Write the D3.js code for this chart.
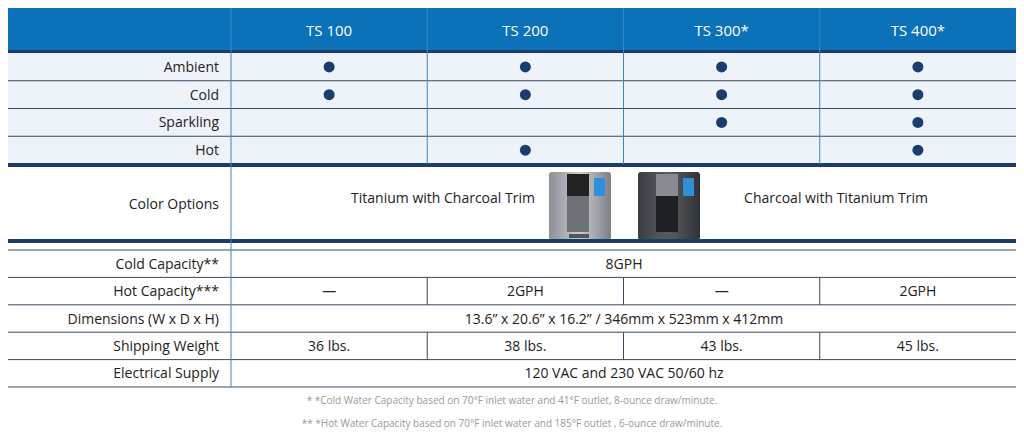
<!DOCTYPE html><html><head><meta charset="utf-8">
<script src="https://cdn.jsdelivr.net/npm/d3@7"></script>
<style>body{margin:0;background:#fff}text{font-family:"Open Sans",sans-serif}</style></head><body>
<svg id="c" width="1024" height="439"></svg>
<script>
const models=["TS 100","TS 200","TS 300*","TS 400*"];
const features=["Ambient","Cold","Sparkling","Hot"];
const featureAvail=[[1,1,1,1],[1,1,1,1],[0,0,1,1],[0,1,0,1]];
const specLabels=["Cold Capacity**","Hot Capacity***","Dimensions (W x D x H)","Shipping Weight","Electrical Supply"];
const specValues=[["8GPH"],["—","2GPH","—","2GPH"],["13.6” x 20.6” x 16.2”  /  346mm x 523mm x 412mm"],["36 lbs.","38 lbs.","43 lbs.","45 lbs."],["120 VAC and 230 VAC 50/60 hz"]];
const colorOptions=["Titanium with Charcoal Trim","Charcoal with Titanium Trim"];
const footnotes=["* *Cold Water Capacity based  on 70°F inlet water and 41°F outlet, 8-ounce draw/minute.","** *Hot Water Capacity based on 70°F inlet water and 185°F outlet , 6-ounce  draw/minute."];

const svg=d3.select("#c");
const x=d3.scaleBand().domain(models).range([231,1016]);
const L=8,R=1016,navy="#1b3d6e",line="#3a4a5e";
// header
svg.append("rect").attr("x",L).attr("y",8).attr("width",R-L).attr("height",43).attr("fill","#0b72b9");
svg.append("rect").attr("x",L).attr("y",50).attr("width",R-L).attr("height",3).attr("fill",navy);
models.forEach(m=>svg.append("text").attr("x",x(m)+x.bandwidth()/2).attr("y",36).attr("text-anchor","middle").attr("fill","#fff").attr("font-size",15).text(m));
// features
const yf=d3.scaleBand().domain(features).range([53,164]);
svg.append("rect").attr("x",L).attr("y",53).attr("width",R-L).attr("height",111).attr("fill","#eef3fa");
features.forEach((f,i)=>{
 const y0=yf(f);
 svg.append("text").attr("x",219).attr("y",y0+yf.bandwidth()/2+5).attr("text-anchor","end").attr("font-size",14).attr("fill","#222").text(f);
 if(i>0)svg.append("line").attr("x1",L).attr("x2",R).attr("y1",y0).attr("y2",y0).attr("stroke",line).attr("stroke-width",1);
 models.forEach((m,j)=>{if(featureAvail[i][j])svg.append("circle").attr("cx",x(m)+x.bandwidth()/2).attr("cy",y0+yf.bandwidth()/2).attr("r",5.5).attr("fill",navy);});
});
svg.append("rect").attr("x",L).attr("y",163).attr("width",R-L).attr("height",4).attr("fill",navy);
// color options
svg.append("text").attr("x",219).attr("y",209).attr("text-anchor","end").attr("font-size",14).attr("fill","#222").text("Color Options");
svg.append("text").attr("x",443).attr("y",203).attr("text-anchor","middle").attr("font-size",14).attr("fill","#222").text(colorOptions[0]);
svg.append("text").attr("x",836).attr("y",203).attr("text-anchor","middle").attr("font-size",14).attr("fill","#222").text(colorOptions[1]);
function disp(x0,dark){const g=svg.append("g").attr("transform",`translate(${x0},168)`);
 const gr=svg.append("defs").append("linearGradient").attr("id","g"+x0);
 gr.append("stop").attr("offset",0).attr("stop-color",dark?"#3a3d42":"#8c9096");gr.append("stop").attr("offset",0.5).attr("stop-color",dark?"#5a5e64":"#c9ccd0");gr.append("stop").attr("offset",1).attr("stop-color",dark?"#2e3135":"#7d8187");
 g.append("rect").attr("x",0).attr("y",4).attr("width",62).attr("height",68).attr("rx",3).attr("fill",`url(#g${x0})`);
 g.append("rect").attr("x",18).attr("y",6).attr("width",22).attr("height",22).attr("fill",dark?"#888c92":"#222");
 g.append("rect").attr("x",18).attr("y",28).attr("width",22).attr("height",36).attr("fill",dark?"#1d1f22":"#6d7278");
 g.append("rect").attr("x",45).attr("y",10).attr("width",11).attr("height",18).attr("fill","#2f8fd8");
 g.append("rect").attr("x",20).attr("y",66).attr("width",20).attr("height",4).attr("fill","#555");}
disp(549,false);disp(638,true);
svg.append("rect").attr("x",L).attr("y",239).attr("width",R-L).attr("height",4).attr("fill",navy);
// specs
const ys=d3.scaleBand().domain(specLabels).range([250,387]);
specLabels.forEach((s,i)=>{
 const y0=ys(s),cy=y0+ys.bandwidth()/2+5;
 svg.append("line").attr("x1",L).attr("x2",R).attr("y1",y0+ys.bandwidth()).attr("y2",y0+ys.bandwidth()).attr("stroke",line);
 svg.append("text").attr("x",219).attr("y",cy).attr("text-anchor","end").attr("font-size",14).attr("fill","#222").text(s);
 const v=specValues[i];
 if(v.length===1)svg.append("text").attr("x",624).attr("y",cy).attr("text-anchor","middle").attr("font-size",14).attr("fill","#222").text(v[0]);
 else v.forEach((t,j)=>{svg.append("text").attr("x",x(models[j])+x.bandwidth()/2).attr("y",cy).attr("text-anchor","middle").attr("font-size",14).attr("fill","#222").text(t);
   if(j>0)svg.append("line").attr("x1",x(models[j])).attr("x2",x(models[j])).attr("y1",y0).attr("y2",y0+ys.bandwidth()).attr("stroke",line);});
});
svg.append("line").attr("x1",L).attr("x2",R).attr("y1",250).attr("y2",250).attr("stroke",line);
// vertical lines
svg.append("line").attr("x1",231).attr("x2",231).attr("y1",8).attr("y2",387).attr("stroke",line);
models.slice(1).forEach(m=>svg.append("line").attr("x1",x(m)).attr("x2",x(m)).attr("y1",8).attr("y2",164).attr("stroke",line));
svg.selectAll("line").filter(function(){return +this.getAttribute("y1")<51}).attr("stroke","#3b86c4");
footnotes.forEach((f,i)=>svg.append("text").attr("x",512).attr("y",404+i*23).attr("text-anchor","middle").attr("font-size",10).attr("fill","#999").text(f));
</script></body></html>
